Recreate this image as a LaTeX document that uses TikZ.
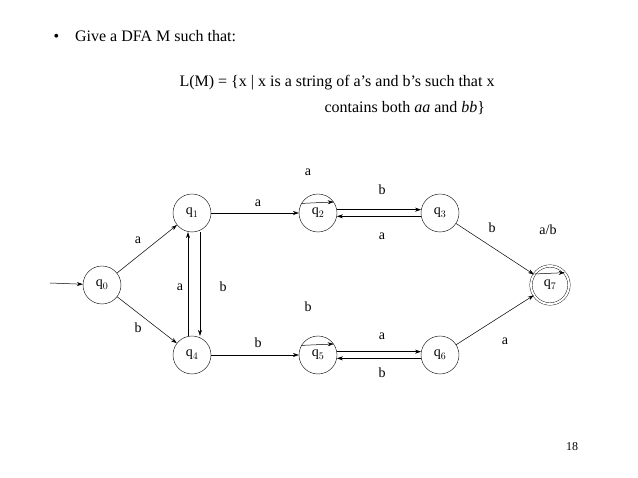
\documentclass[tikz,border=0pt]{standalone}
\usepackage{fontspec}
\setmainfont{Liberation Serif}
\usetikzlibrary{arrows.meta}
\begin{document}
\begin{tikzpicture}[x=1pt,y=-1pt,
 st/.style={circle,draw,minimum size=38pt,inner sep=0pt,font=\fontsize{14}{16}\selectfont},
 lb/.style={font=\fontsize{14}{16}\selectfont},
 e/.style={-{Stealth[length=6pt,width=4pt]},line width=0.5pt}]
\useasboundingbox (0,0) rectangle (638,478);
\node[anchor=west,font=\fontsize{16}{18}\selectfont] (t1) at (50,36) {\textbullet\quad Give a DFA M such that:};
\node[anchor=west,font=\fontsize{16}{18}\selectfont] (t2) at (176,83) {L(M) = \{x | x is a string of a’s and b’s such that x};
\node[anchor=west,font=\fontsize{16}{18}\selectfont] (t3) at (321,108) {contains both \textit{aa} and \textit{bb}\}};
\node[font=\fontsize{12}{14}\selectfont] (pg) at (572,447) {18};
\node[st] (q0) at (102,285) {q$_0$};
\node[st] (q1) at (192,213) {q$_1$};
\node[st] (q4) at (192,355) {q$_4$};
\node[st] (q2) at (318,213) {q$_2$};
\node[st] (q3) at (440,213) {q$_3$};
\node[st] (q5) at (318,355) {q$_5$};
\node[st] (q6) at (440,355) {q$_6$};
\node[st,double,double distance=2pt] (q7) at (550,285) {q$_7$};
\coordinate (s) at (50,283);
\draw[e] (s) -- (q0);
\draw[e] (q0) -- (q1); \node[lb] (l1) at (138,240) {a};
\draw[e] (q0) -- (q4); \node[lb] (l2) at (138,328) {b};
\draw[e] (q1) -- (q2); \node[lb] (l3) at (258,203) {a};
\draw[e] (q4) -- (q5); \node[lb] (l4) at (258,343) {b};
\draw[e] ([xshift=-4pt]q4.north) -- ([xshift=-4pt]q1.south); \node[lb] (l5) at (180,287) {a};
\draw[e] ([xshift=8pt]q1.south) -- ([xshift=8pt]q4.north); \node[lb] (l6) at (223,287) {b};
\draw[e] (q2.10) -- (q3.170); \node[lb] (l7) at (382,190) {b};
\draw[e] (q3.-170) -- (q2.-10); \node[lb] (l8) at (382,236) {a};
\draw[e] (q5.10) -- (q6.170); \node[lb] (l9) at (382,336) {a};
\draw[e] (q6.-170) -- (q5.-10); \node[lb] (l10) at (382,373) {b};
\draw[e] (q2.150) -- (q2.35); \node[lb] (l11) at (308,172) {a};
\draw[e] (q5.150) -- (q5.35); \node[lb] (l12) at (308,307) {b};
\draw[e] (q3) -- (q7); \node[lb] (l13) at (492,228) {b};
\draw[e] (q6) -- (q7); \node[lb] (l14) at (505,341) {a};
\draw[e] (q7.145) -- (q7.40); \node[lb] (l15) at (548,230) {a/b};
\end{tikzpicture}
\end{document}
